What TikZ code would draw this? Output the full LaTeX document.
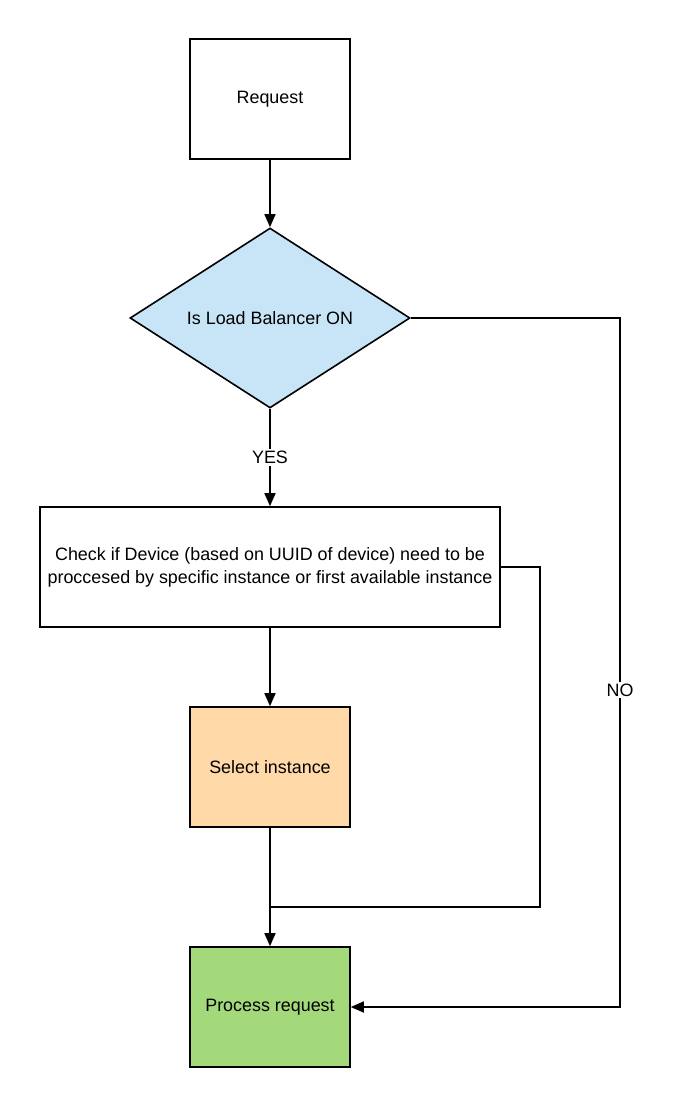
\documentclass[tikz,border=0pt]{standalone}
\usepackage{fontspec}
\setmainfont{Liberation Sans}
\usepackage{xcolor}
\usetikzlibrary{
    arrows.meta,
    shapes.geometric
}
\definecolor{lbblue}{HTML}{C7E5F7}
\definecolor{selorange}{HTML}{FFDAA8}
\definecolor{procgreen}{HTML}{A3D97A}

\begin{document}
\begin{tikzpicture}[x=1pt,y=-1pt,>={Triangle[length=13pt,width=11pt]},line width=1.6pt,
    font=\fontsize{17.9}{23}\selectfont]
    \tikzstyle{stepbox}=[draw, rectangle, minimum width=160pt, minimum height=120pt, inner sep=2pt, align=center]
    \tikzstyle{lbl}=[fill=white, inner sep=2pt]
    \useasboundingbox (0,0) rectangle (673,1108);
    \node[stepbox] (req) at (270,99) {Request};
    \node[draw, diamond, fill=lbblue, minimum width=280pt, minimum height=180pt, inner sep=0pt] (lb) at (270,318) {Is Load Balancer ON};
    \node[stepbox, minimum width=460pt] (chk) at (270,567) {Check if Device (based on UUID of device) need to be\\proccesed by specific instance or first available instance};
    \node[stepbox, fill=selorange] (sel) at (270,767) {Select instance};
    \node[stepbox, fill=procgreen] (proc) at (270,1007) {Process request};
    \coordinate (cright) at (540,567);
    \coordinate (join) at (270,907);
    \coordinate (noa) at (620,318);
    \coordinate (nob) at (620,1007);
    \draw[->] (req) -- (lb);
    \draw[->] (lb) -- node[lbl]{YES} (chk);
    \draw[->] (chk) -- (sel);
    \draw[->] (sel) -- (proc);
    \draw (chk.east) -- (cright) |- (join);
    \draw[->] (lb.east) -- (noa) -- node[lbl, pos=0.54]{NO} (nob) -- (proc.east);
\end{tikzpicture}
\end{document}
